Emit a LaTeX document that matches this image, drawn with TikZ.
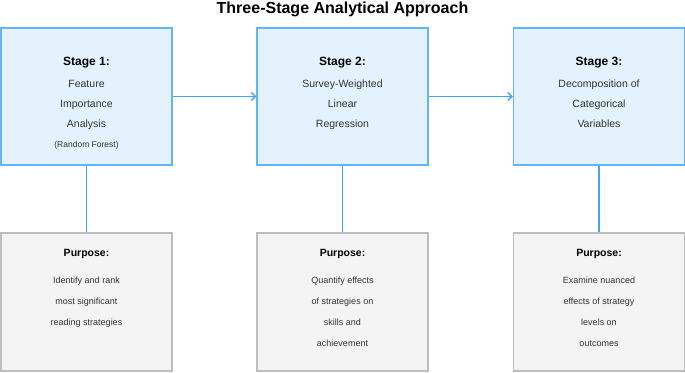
\documentclass[tikz,border=0pt]{standalone}
\usepackage{fontspec}
\setmainfont{Liberation Sans}
\usetikzlibrary{arrows.meta}
\definecolor{stagefill}{HTML}{E3F2FD}
\definecolor{stageline}{HTML}{64B5F6}
\definecolor{linkblue}{HTML}{42A5F5}
\definecolor{purposefill}{HTML}{F4F4F4}
\definecolor{purposeline}{HTML}{BDBDBD}
\definecolor{bodytext}{HTML}{333333}
\begin{document}
\begin{tikzpicture}[x=1pt, y=-1pt, >={Straight Barb[length=4pt, width=8pt]},
    stagebox/.style={draw=stageline, fill=stagefill, line width=1.2pt, minimum width=171pt, minimum height=137pt, inner sep=0pt},
    purposebox/.style={draw=purposeline, fill=purposefill, line width=1.2pt, minimum width=171pt, minimum height=138pt, inner sep=0pt},
    stagetext/.style={align=center, inner sep=0pt, anchor=north, text=bodytext, font=\fontsize{10.5}{20}\selectfont},
    purposetext/.style={align=center, inner sep=0pt, anchor=north, text=bodytext, font=\fontsize{9}{21}\selectfont},
    link/.style={draw=linkblue, line width=1.5pt}]
    \useasboundingbox (0,0) rectangle (685,372);

    \node[anchor=base, font=\bfseries\fontsize{16}{19}\selectfont] (title) at (342.5,13) {Three-Stage Analytical Approach};

    % stage boxes
    \node[stagebox] (s1) at (86.5,96.5) {};
    \node[stagebox] (s2) at (342.5,96.5) {};
    \node[stagebox] (s3) at (599,96.5) {};

    % purpose boxes
    \node[purposebox] (p1) at (86.5,302) {};
    \node[purposebox] (p2) at (342.5,302) {};
    \node[purposebox] (p3) at (599,302) {};

    \draw[link, ->] (s1.east) -- (s2.west);
    \draw[link, ->] (s2.east) -- (s3.west);
    \draw[link] (s1.south) -- (p1.north);
    \draw[link] (s2.south) -- (p2.north);
    \draw[link] (s3.south) -- (p3.north);

    \node[stagetext] (t1) at (86.5,57.3) {{\color{black}\bfseries\fontsize{12}{20}\selectfont Stage 1:}\\[1.5pt]
        Feature\\ Importance\\ Analysis\\ {\fontsize{8.5}{20}\selectfont (Random Forest)}};
    \node[stagetext] (t2) at (342.5,57.3) {{\color{black}\bfseries\fontsize{12}{20}\selectfont Stage 2:}\\[1.5pt]
        Survey-Weighted\\ Linear\\ Regression};
    \node[stagetext] (t3) at (599,57.3) {{\color{black}\bfseries\fontsize{12}{20}\selectfont Stage 3:}\\[1.5pt]
        Decomposition of\\ Categorical\\ Variables};

    \node[purposetext] (u1) at (86.5,249.5) {{\color{black}\bfseries\fontsize{10.5}{21}\selectfont Purpose:}\\[6pt]
        Identify and rank\\ most significant\\ reading strategies};
    \node[purposetext] (u2) at (342.5,249.5) {{\color{black}\bfseries\fontsize{10.5}{21}\selectfont Purpose:}\\[6pt]
        Quantify effects\\ of strategies on\\ skills and\\ achievement};
    \node[purposetext] (u3) at (599,249.5) {{\color{black}\bfseries\fontsize{10.5}{21}\selectfont Purpose:}\\[6pt]
        Examine nuanced\\ effects of strategy\\ levels on\\ outcomes};
\end{tikzpicture}
\end{document}
